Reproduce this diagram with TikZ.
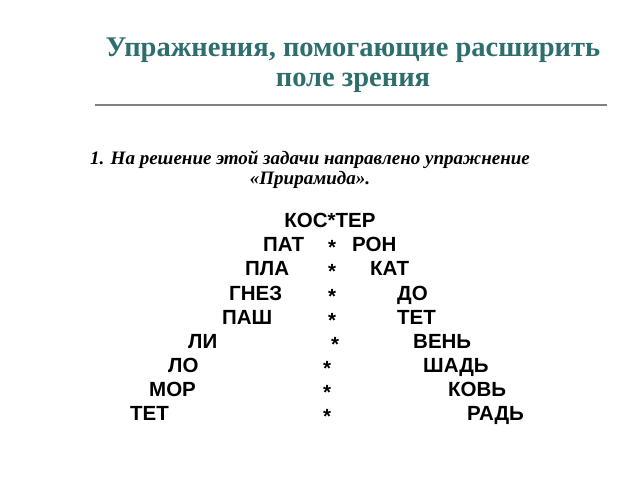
\documentclass[tikz,border=0pt]{standalone}
\usepackage{fontspec}
\setmainfont{Liberation Serif}
\newfontfamily\arialf{Liberation Sans}
\definecolor{titlec}{HTML}{2E6E6E}
\begin{document}
\begin{tikzpicture}[x=1pt,y=-1pt,
  ttl/.style={font=\fontsize{28.5}{32}\selectfont\bfseries, text=titlec},
  itm/.style={font=\fontsize{19}{22}\selectfont\bfseries\itshape},
  wd/.style={font=\arialf\fontsize{20.5}{22}\selectfont\bfseries, anchor=base west, inner sep=0pt},
  st/.style={font=\arialf\fontsize{20.5}{22}\selectfont\bfseries, anchor=base, inner sep=0pt}]
\useasboundingbox (0,0) rectangle (640,480);
\node[ttl] (t1) at (353,50) {Упражнения, помогающие расширить};
\node[ttl] (t2) at (353,83) {поле зрения};
\draw[gray, line width=1.2pt] (95,105) -- (607,105);
\node[itm] (i1) at (310,160) {1. На решение этой задачи направлено упражнение};
\node[itm] (i2) at (310,180) {«Прирамида».};
\node[st] (k) at (330,227) {КОС*ТЕР};
\foreach \y/\a/\ax/\sx/\b/\bx [count=\i] in {
 251/ПАТ/263/332/РОН/352,
 275/ПЛА/245/332/КАТ/370,
 300/ГНЕЗ/229/332/ДО/397,
 324/ПАШ/222/332/ТЕТ/397,
 348/ЛИ/188/335/ВЕНЬ/413,
 372/ЛО/168/327/ШАДЬ/423,
 396/МОР/149/327/КОВЬ/448,
 420/ТЕТ/130/327/РАДЬ/467}{
  \node[wd] (a\i) at (\ax,\y) {\a};
  \node[st] (s\i) at (\sx,\y+3) {*};
  \node[wd] (b\i) at (\bx,\y) {\b};
}
\end{tikzpicture}
\end{document}
